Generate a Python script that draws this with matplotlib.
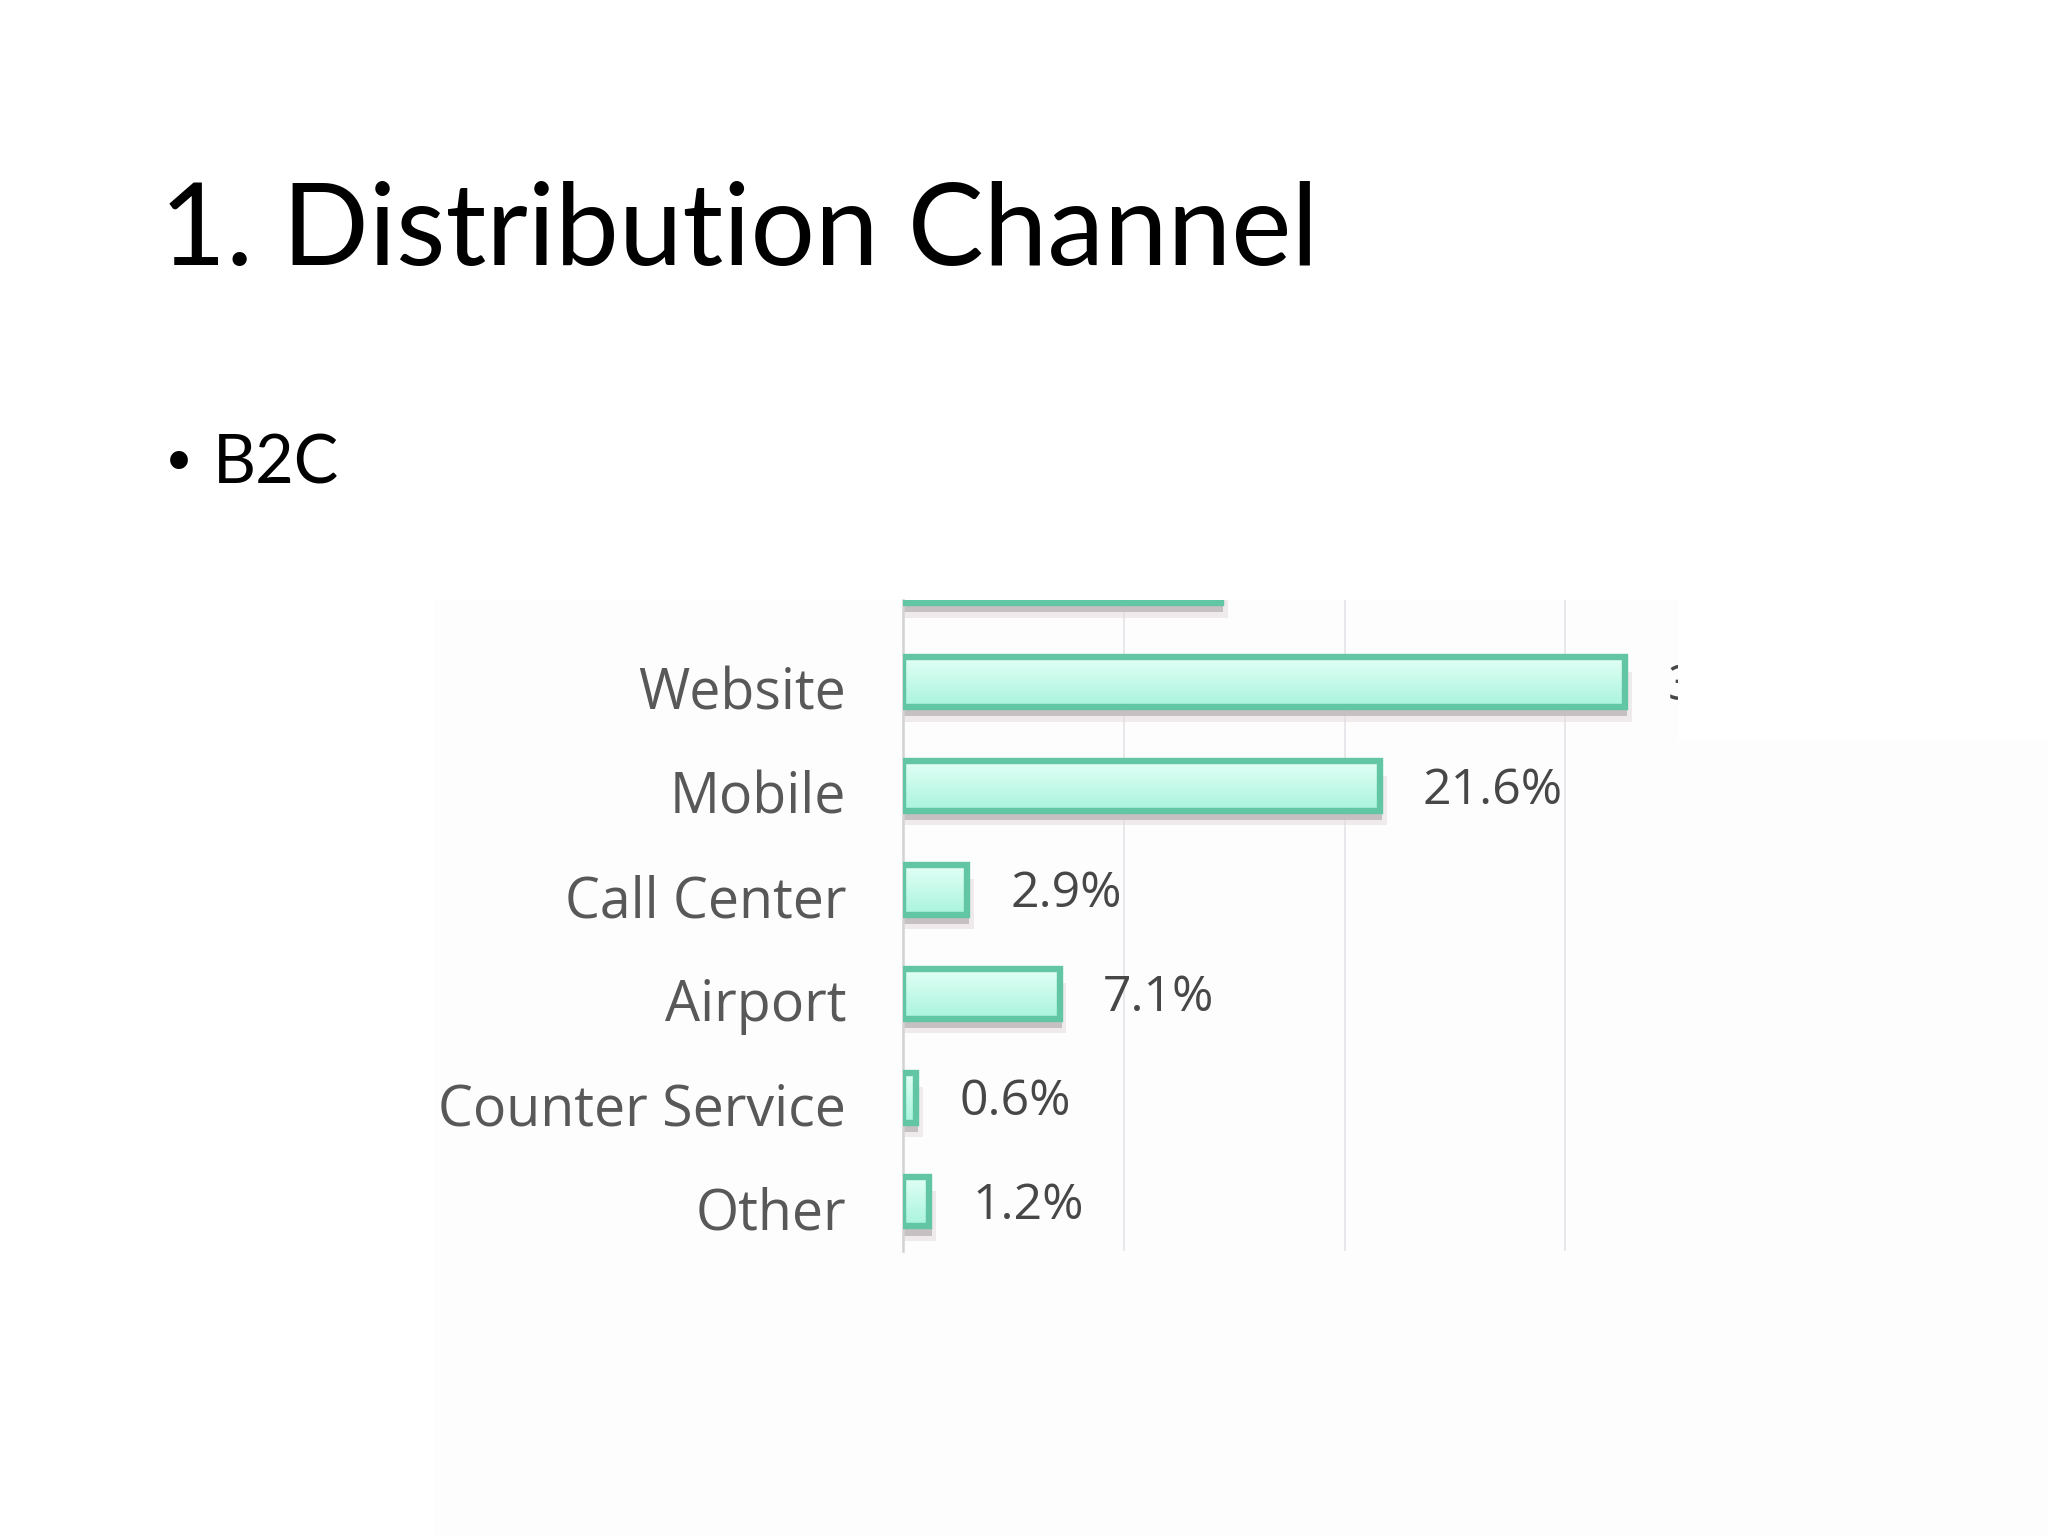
import numpy as np
import matplotlib
matplotlib.use('Agg')
import matplotlib.pyplot as plt
from matplotlib.colors import LinearSegmentedColormap
from matplotlib.patches import Rectangle

# ---- data ------------------------------------------------------------------
channels = ['OTA', 'Website', 'Mobile', 'Call Center', 'Airport',
            'Counter Service', 'Other']
shares = [14.4, 32.7, 21.6, 2.9, 7.1, 0.6, 1.2]
value_labels = ['14.4%', '32.7%', '21.6%', '2.9%', '7.1%', '0.6%', '1.2%']
grid_ticks = [0, 10, 20, 30]

TITLE = '1. Distribution Channel'
BULLET = 'B2C'

# ---- style -------------------------------------------------------------------
EDGE = '#62c5a4'
MINT = LinearSegmentedColormap.from_list('mint', ['#e2fff6', '#a8f4dc'])
LABEL_GREY = '#585858'
VALUE_GREY = '#474747'

W, H, DPI = 2048, 1536, 100
fig = plt.figure(figsize=(W / DPI, H / DPI), dpi=DPI)
fig.patch.set_facecolor('white')


def fx(px):
    return px / W


def fy(py):
    return 1 - py / H


# very faint off-white backdrop of the pasted chart image
for (x0, y0, x1, y1) in [(435, 600, 1678, 1536), (1678, 740, 2048, 1536)]:
    fig.add_artist(Rectangle((fx(x0), fy(y1)), fx(x1) - fx(x0), fy(y0) - fy(y1),
                             transform=fig.transFigure, facecolor='#fdfdfe',
                             edgecolor='none', zorder=-2))

# slide text
fig.text(fx(160), fy(265), TITLE, fontsize=82, family='Lato',
         color='black', va='baseline', ha='left')
fig.text(fx(161), fy(483), '\u2022', fontsize=44, family='DejaVu Sans',
         color='black', va='baseline', ha='left')
fig.text(fx(213), fy(483), BULLET, fontsize=48, family='Lato',
         color='black', va='baseline', ha='left')

# ---- chart -------------------------------------------------------------------
ax = fig.add_axes([fx(903), fy(1251), fx(1678) - fx(903), fy(600) - fy(1251)])
ax.set_facecolor('none')

y = np.arange(len(channels))
bar_h = 0.48
vals = np.array(shares)

# soft drop shadow under each bar
ax.barh(y + 0.14, vals + 0.3, height=bar_h, color='#e3d8dc', alpha=0.5,
        zorder=1.4, linewidth=0)
ax.barh(y + 0.09, vals + 0.1, height=bar_h, color='#b9b3b6', alpha=0.75,
        zorder=1.5, linewidth=0)

bars = ax.barh(y, shares, height=bar_h, facecolor='none', edgecolor=EDGE,
               linewidth=4.6, zorder=3)

# vertical gradient fill clipped to each bar (and to the axes)
grad = np.linspace(0, 1, 64).reshape(-1, 1)
for rect in bars:
    x0, yb = rect.get_x(), rect.get_y()
    im = ax.imshow(grad, extent=(x0, x0 + rect.get_width(), yb + bar_h, yb),
                   cmap=MINT, aspect='auto', origin='upper',
                   interpolation='bilinear', zorder=2)
    im.set_clip_path(rect.get_path(), rect.get_transform())

# value labels right of the bars (sit a touch below the bar centre)
for rect, lbl in zip(bars, value_labels):
    ax.annotate(lbl, (rect.get_width(), rect.get_y() + bar_h / 2),
                xytext=(31, -3.5), textcoords='offset points',
                ha='left', va='center', fontsize=36, family='Open Sans',
                color=VALUE_GREY, clip_on=True)

# category labels, nudged slightly below the bar centres as in the source
ax.set_yticks(y + 0.06)
ax.set_yticklabels(channels, fontsize=40, family='Open Sans', color=LABEL_GREY)
ax.tick_params(axis='y', length=0, pad=41)
ax.set_xticks(grid_ticks)
ax.tick_params(axis='x', length=0, labelbottom=False)
ax.xaxis.grid(True, color='#e8e8ec', linewidth=1.4)
ax.set_axisbelow(True)

ax.set_xlim(0, 35.1)
ax.set_ylim(6.476, 0.21)
ax.set_aspect('auto')

for side in ['top', 'right', 'bottom']:
    ax.spines[side].set_visible(False)
ax.spines['left'].set_color('#d2d2d2')
ax.spines['left'].set_linewidth(1.8)

# the pasted image is cropped at the top: hide what lies above it
fig.add_artist(Rectangle((fx(300), fy(600)), fx(900) - fx(300), fy(520) - fy(600),
                         transform=fig.transFigure, facecolor='white',
                         edgecolor='none', zorder=10))

fig.savefig('out.png', dpi=DPI)
